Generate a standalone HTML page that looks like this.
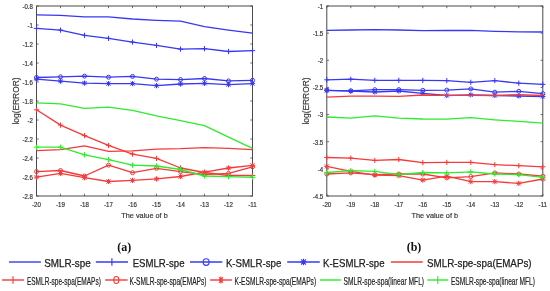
<!DOCTYPE html>
<html><head><meta charset="utf-8"><style>
html,body{margin:0;padding:0;background:#fff;}
body{width:550px;height:291px;overflow:hidden;}
svg{display:block;will-change:transform;}
text{font-family:"Liberation Sans",sans-serif;fill:#333333;}
.tk{font-size:6.6px;stroke:#333;stroke-width:0.18px;}
.xl{font-size:8px;stroke:#333;stroke-width:0.18px;}
.yl{font-size:8.4px;stroke:#333;stroke-width:0.15px;}
.pl{font-family:"Liberation Serif",serif;font-weight:bold;font-size:12px;fill:#111;}
.lg1{font-size:10.4px;fill:#222;stroke:#222;stroke-width:0.25px;}
.lg2{font-size:10.8px;fill:#222;stroke:#222;stroke-width:0.2px;}
</style></head><body>
<svg width="550" height="291" viewBox="0 0 550 291">
<rect width="550" height="291" fill="#fff"/>
<rect x="36.5" y="6.0" width="216.0" height="190.0" fill="none" stroke="#4a4a4a" stroke-width="1"/>
<path d="M36.5 196.0V193.8M36.5 6.0V8.2" stroke="#4a4a4a" stroke-width="0.8"/>
<path d="M60.5 196.0V193.8M60.5 6.0V8.2" stroke="#4a4a4a" stroke-width="0.8"/>
<path d="M84.5 196.0V193.8M84.5 6.0V8.2" stroke="#4a4a4a" stroke-width="0.8"/>
<path d="M108.5 196.0V193.8M108.5 6.0V8.2" stroke="#4a4a4a" stroke-width="0.8"/>
<path d="M132.5 196.0V193.8M132.5 6.0V8.2" stroke="#4a4a4a" stroke-width="0.8"/>
<path d="M156.5 196.0V193.8M156.5 6.0V8.2" stroke="#4a4a4a" stroke-width="0.8"/>
<path d="M180.5 196.0V193.8M180.5 6.0V8.2" stroke="#4a4a4a" stroke-width="0.8"/>
<path d="M204.5 196.0V193.8M204.5 6.0V8.2" stroke="#4a4a4a" stroke-width="0.8"/>
<path d="M228.5 196.0V193.8M228.5 6.0V8.2" stroke="#4a4a4a" stroke-width="0.8"/>
<path d="M252.5 196.0V193.8M252.5 6.0V8.2" stroke="#4a4a4a" stroke-width="0.8"/>
<path d="M36.5 6.00H38.7M252.5 6.00H250.3" stroke="#4a4a4a" stroke-width="0.8"/>
<path d="M36.5 25.00H38.7M252.5 25.00H250.3" stroke="#4a4a4a" stroke-width="0.8"/>
<path d="M36.5 44.00H38.7M252.5 44.00H250.3" stroke="#4a4a4a" stroke-width="0.8"/>
<path d="M36.5 63.00H38.7M252.5 63.00H250.3" stroke="#4a4a4a" stroke-width="0.8"/>
<path d="M36.5 82.00H38.7M252.5 82.00H250.3" stroke="#4a4a4a" stroke-width="0.8"/>
<path d="M36.5 101.00H38.7M252.5 101.00H250.3" stroke="#4a4a4a" stroke-width="0.8"/>
<path d="M36.5 120.00H38.7M252.5 120.00H250.3" stroke="#4a4a4a" stroke-width="0.8"/>
<path d="M36.5 139.00H38.7M252.5 139.00H250.3" stroke="#4a4a4a" stroke-width="0.8"/>
<path d="M36.5 158.00H38.7M252.5 158.00H250.3" stroke="#4a4a4a" stroke-width="0.8"/>
<path d="M36.5 177.00H38.7M252.5 177.00H250.3" stroke="#4a4a4a" stroke-width="0.8"/>
<path d="M36.5 196.00H38.7M252.5 196.00H250.3" stroke="#4a4a4a" stroke-width="0.8"/>
<text transform="translate(36.50,207.4) scale(0.93,1)" class="tk" text-anchor="middle">-20</text>
<text transform="translate(60.50,207.4) scale(0.93,1)" class="tk" text-anchor="middle">-19</text>
<text transform="translate(84.50,207.4) scale(0.93,1)" class="tk" text-anchor="middle">-18</text>
<text transform="translate(108.50,207.4) scale(0.93,1)" class="tk" text-anchor="middle">-17</text>
<text transform="translate(132.50,207.4) scale(0.93,1)" class="tk" text-anchor="middle">-16</text>
<text transform="translate(156.50,207.4) scale(0.93,1)" class="tk" text-anchor="middle">-15</text>
<text transform="translate(180.50,207.4) scale(0.93,1)" class="tk" text-anchor="middle">-14</text>
<text transform="translate(204.50,207.4) scale(0.93,1)" class="tk" text-anchor="middle">-13</text>
<text transform="translate(228.50,207.4) scale(0.93,1)" class="tk" text-anchor="middle">-12</text>
<text transform="translate(252.50,207.4) scale(0.93,1)" class="tk" text-anchor="middle">-11</text>
<text transform="translate(32.90,8.90) scale(0.92,1)" class="tk" text-anchor="end">-0.8</text>
<text transform="translate(32.90,27.90) scale(0.92,1)" class="tk" text-anchor="end">-1</text>
<text transform="translate(32.90,46.90) scale(0.92,1)" class="tk" text-anchor="end">-1.2</text>
<text transform="translate(32.90,65.90) scale(0.92,1)" class="tk" text-anchor="end">-1.4</text>
<text transform="translate(32.90,84.90) scale(0.92,1)" class="tk" text-anchor="end">-1.6</text>
<text transform="translate(32.90,103.90) scale(0.92,1)" class="tk" text-anchor="end">-1.8</text>
<text transform="translate(32.90,122.90) scale(0.92,1)" class="tk" text-anchor="end">-2</text>
<text transform="translate(32.90,141.90) scale(0.92,1)" class="tk" text-anchor="end">-2.2</text>
<text transform="translate(32.90,160.90) scale(0.92,1)" class="tk" text-anchor="end">-2.4</text>
<text transform="translate(32.90,179.90) scale(0.92,1)" class="tk" text-anchor="end">-2.6</text>
<text transform="translate(32.90,198.90) scale(0.92,1)" class="tk" text-anchor="end">-2.8</text>
<text x="144.50" y="218.4" class="xl" text-anchor="middle" textLength="46.5" lengthAdjust="spacingAndGlyphs">The value of b</text>
<text transform="translate(19.00,101) rotate(-90)" class="yl" text-anchor="middle">log(ERROR)</text>
<rect x="326.8" y="6.0" width="215.99999999999994" height="190.0" fill="none" stroke="#4a4a4a" stroke-width="1"/>
<path d="M326.8 196.0V193.8M326.8 6.0V8.2" stroke="#4a4a4a" stroke-width="0.8"/>
<path d="M350.8 196.0V193.8M350.8 6.0V8.2" stroke="#4a4a4a" stroke-width="0.8"/>
<path d="M374.8 196.0V193.8M374.8 6.0V8.2" stroke="#4a4a4a" stroke-width="0.8"/>
<path d="M398.8 196.0V193.8M398.8 6.0V8.2" stroke="#4a4a4a" stroke-width="0.8"/>
<path d="M422.8 196.0V193.8M422.8 6.0V8.2" stroke="#4a4a4a" stroke-width="0.8"/>
<path d="M446.8 196.0V193.8M446.8 6.0V8.2" stroke="#4a4a4a" stroke-width="0.8"/>
<path d="M470.8 196.0V193.8M470.8 6.0V8.2" stroke="#4a4a4a" stroke-width="0.8"/>
<path d="M494.8 196.0V193.8M494.8 6.0V8.2" stroke="#4a4a4a" stroke-width="0.8"/>
<path d="M518.8 196.0V193.8M518.8 6.0V8.2" stroke="#4a4a4a" stroke-width="0.8"/>
<path d="M542.8 196.0V193.8M542.8 6.0V8.2" stroke="#4a4a4a" stroke-width="0.8"/>
<path d="M326.8 6.00H329.0M542.8 6.00H540.5999999999999" stroke="#4a4a4a" stroke-width="0.8"/>
<path d="M326.8 33.14H329.0M542.8 33.14H540.5999999999999" stroke="#4a4a4a" stroke-width="0.8"/>
<path d="M326.8 60.29H329.0M542.8 60.29H540.5999999999999" stroke="#4a4a4a" stroke-width="0.8"/>
<path d="M326.8 87.43H329.0M542.8 87.43H540.5999999999999" stroke="#4a4a4a" stroke-width="0.8"/>
<path d="M326.8 114.57H329.0M542.8 114.57H540.5999999999999" stroke="#4a4a4a" stroke-width="0.8"/>
<path d="M326.8 141.71H329.0M542.8 141.71H540.5999999999999" stroke="#4a4a4a" stroke-width="0.8"/>
<path d="M326.8 168.86H329.0M542.8 168.86H540.5999999999999" stroke="#4a4a4a" stroke-width="0.8"/>
<path d="M326.8 196.00H329.0M542.8 196.00H540.5999999999999" stroke="#4a4a4a" stroke-width="0.8"/>
<text transform="translate(326.80,207.4) scale(0.93,1)" class="tk" text-anchor="middle">-20</text>
<text transform="translate(350.80,207.4) scale(0.93,1)" class="tk" text-anchor="middle">-19</text>
<text transform="translate(374.80,207.4) scale(0.93,1)" class="tk" text-anchor="middle">-18</text>
<text transform="translate(398.80,207.4) scale(0.93,1)" class="tk" text-anchor="middle">-17</text>
<text transform="translate(422.80,207.4) scale(0.93,1)" class="tk" text-anchor="middle">-16</text>
<text transform="translate(446.80,207.4) scale(0.93,1)" class="tk" text-anchor="middle">-15</text>
<text transform="translate(470.80,207.4) scale(0.93,1)" class="tk" text-anchor="middle">-14</text>
<text transform="translate(494.80,207.4) scale(0.93,1)" class="tk" text-anchor="middle">-13</text>
<text transform="translate(518.80,207.4) scale(0.93,1)" class="tk" text-anchor="middle">-12</text>
<text transform="translate(542.80,207.4) scale(0.93,1)" class="tk" text-anchor="middle">-11</text>
<text transform="translate(323.20,8.90) scale(0.92,1)" class="tk" text-anchor="end">-1</text>
<text transform="translate(323.20,36.04) scale(0.92,1)" class="tk" text-anchor="end">-1.5</text>
<text transform="translate(323.20,63.19) scale(0.92,1)" class="tk" text-anchor="end">-2</text>
<text transform="translate(323.20,90.33) scale(0.92,1)" class="tk" text-anchor="end">-2.5</text>
<text transform="translate(323.20,117.47) scale(0.92,1)" class="tk" text-anchor="end">-3</text>
<text transform="translate(323.20,144.61) scale(0.92,1)" class="tk" text-anchor="end">-3.5</text>
<text transform="translate(323.20,171.76) scale(0.92,1)" class="tk" text-anchor="end">-4</text>
<text transform="translate(323.20,198.90) scale(0.92,1)" class="tk" text-anchor="end">-4.5</text>
<text x="434.80" y="218.4" class="xl" text-anchor="middle" textLength="46.5" lengthAdjust="spacingAndGlyphs">The value of b</text>
<text transform="translate(309.30,101) rotate(-90)" class="yl" text-anchor="middle">log(ERROR)</text>
<polyline points="36.50,14.80 60.50,15.30 84.50,16.80 108.50,16.80 132.50,19.00 156.50,20.30 180.50,21.20 204.50,26.60 228.50,30.10 252.50,33.20" stroke="#3838f4" stroke-width="1.3" fill="none" stroke-linejoin="round"/>
<polyline points="326.80,30.30 350.80,30.00 374.80,29.60 398.80,30.00 422.80,30.70 446.80,30.50 470.80,30.30 494.80,31.30 518.80,31.80 542.80,32.00" stroke="#3838f4" stroke-width="1.3" fill="none" stroke-linejoin="round"/>
<polyline points="36.50,28.40 60.50,30.10 84.50,35.30 108.50,38.40 132.50,42.10 156.50,45.40 180.50,49.10 204.50,48.70 228.50,51.50 252.50,50.60" stroke="#3838f4" stroke-width="1.3" fill="none" stroke-linejoin="round"/>
<path d="M33.90 28.40H39.10M36.50 25.80V31.00" stroke="#3838f4" stroke-width="1.0" fill="none"/>
<path d="M57.90 30.10H63.10M60.50 27.50V32.70" stroke="#3838f4" stroke-width="1.0" fill="none"/>
<path d="M81.90 35.30H87.10M84.50 32.70V37.90" stroke="#3838f4" stroke-width="1.0" fill="none"/>
<path d="M105.90 38.40H111.10M108.50 35.80V41.00" stroke="#3838f4" stroke-width="1.0" fill="none"/>
<path d="M129.90 42.10H135.10M132.50 39.50V44.70" stroke="#3838f4" stroke-width="1.0" fill="none"/>
<path d="M153.90 45.40H159.10M156.50 42.80V48.00" stroke="#3838f4" stroke-width="1.0" fill="none"/>
<path d="M177.90 49.10H183.10M180.50 46.50V51.70" stroke="#3838f4" stroke-width="1.0" fill="none"/>
<path d="M201.90 48.70H207.10M204.50 46.10V51.30" stroke="#3838f4" stroke-width="1.0" fill="none"/>
<path d="M225.90 51.50H231.10M228.50 48.90V54.10" stroke="#3838f4" stroke-width="1.0" fill="none"/>
<path d="M249.90 50.60H255.10M252.50 48.00V53.20" stroke="#3838f4" stroke-width="1.0" fill="none"/>
<polyline points="326.80,79.80 350.80,79.20 374.80,80.30 398.80,80.30 422.80,80.40 446.80,80.60 470.80,82.30 494.80,80.60 518.80,83.20 542.80,84.40" stroke="#3838f4" stroke-width="1.3" fill="none" stroke-linejoin="round"/>
<path d="M324.20 79.80H329.40M326.80 77.20V82.40" stroke="#3838f4" stroke-width="1.0" fill="none"/>
<path d="M348.20 79.20H353.40M350.80 76.60V81.80" stroke="#3838f4" stroke-width="1.0" fill="none"/>
<path d="M372.20 80.30H377.40M374.80 77.70V82.90" stroke="#3838f4" stroke-width="1.0" fill="none"/>
<path d="M396.20 80.30H401.40M398.80 77.70V82.90" stroke="#3838f4" stroke-width="1.0" fill="none"/>
<path d="M420.20 80.40H425.40M422.80 77.80V83.00" stroke="#3838f4" stroke-width="1.0" fill="none"/>
<path d="M444.20 80.60H449.40M446.80 78.00V83.20" stroke="#3838f4" stroke-width="1.0" fill="none"/>
<path d="M468.20 82.30H473.40M470.80 79.70V84.90" stroke="#3838f4" stroke-width="1.0" fill="none"/>
<path d="M492.20 80.60H497.40M494.80 78.00V83.20" stroke="#3838f4" stroke-width="1.0" fill="none"/>
<path d="M516.20 83.20H521.40M518.80 80.60V85.80" stroke="#3838f4" stroke-width="1.0" fill="none"/>
<path d="M540.20 84.40H545.40M542.80 81.80V87.00" stroke="#3838f4" stroke-width="1.0" fill="none"/>
<polyline points="36.50,77.50 60.50,76.80 84.50,76.10 108.50,77.20 132.50,76.40 156.50,79.20 180.50,79.60 204.50,78.50 228.50,80.90 252.50,80.30" stroke="#3838f4" stroke-width="1.3" fill="none" stroke-linejoin="round"/>
<circle cx="36.50" cy="77.50" r="2.0" stroke="#3838f4" stroke-width="1.0" fill="none"/>
<circle cx="60.50" cy="76.80" r="2.0" stroke="#3838f4" stroke-width="1.0" fill="none"/>
<circle cx="84.50" cy="76.10" r="2.0" stroke="#3838f4" stroke-width="1.0" fill="none"/>
<circle cx="108.50" cy="77.20" r="2.0" stroke="#3838f4" stroke-width="1.0" fill="none"/>
<circle cx="132.50" cy="76.40" r="2.0" stroke="#3838f4" stroke-width="1.0" fill="none"/>
<circle cx="156.50" cy="79.20" r="2.0" stroke="#3838f4" stroke-width="1.0" fill="none"/>
<circle cx="180.50" cy="79.60" r="2.0" stroke="#3838f4" stroke-width="1.0" fill="none"/>
<circle cx="204.50" cy="78.50" r="2.0" stroke="#3838f4" stroke-width="1.0" fill="none"/>
<circle cx="228.50" cy="80.90" r="2.0" stroke="#3838f4" stroke-width="1.0" fill="none"/>
<circle cx="252.50" cy="80.30" r="2.0" stroke="#3838f4" stroke-width="1.0" fill="none"/>
<polyline points="326.80,90.30 350.80,90.80 374.80,89.70 398.80,89.60 422.80,90.30 446.80,90.10 470.80,88.90 494.80,92.20 518.80,91.30 542.80,93.60" stroke="#3838f4" stroke-width="1.3" fill="none" stroke-linejoin="round"/>
<circle cx="326.80" cy="90.30" r="2.0" stroke="#3838f4" stroke-width="1.0" fill="none"/>
<circle cx="350.80" cy="90.80" r="2.0" stroke="#3838f4" stroke-width="1.0" fill="none"/>
<circle cx="374.80" cy="89.70" r="2.0" stroke="#3838f4" stroke-width="1.0" fill="none"/>
<circle cx="398.80" cy="89.60" r="2.0" stroke="#3838f4" stroke-width="1.0" fill="none"/>
<circle cx="422.80" cy="90.30" r="2.0" stroke="#3838f4" stroke-width="1.0" fill="none"/>
<circle cx="446.80" cy="90.10" r="2.0" stroke="#3838f4" stroke-width="1.0" fill="none"/>
<circle cx="470.80" cy="88.90" r="2.0" stroke="#3838f4" stroke-width="1.0" fill="none"/>
<circle cx="494.80" cy="92.20" r="2.0" stroke="#3838f4" stroke-width="1.0" fill="none"/>
<circle cx="518.80" cy="91.30" r="2.0" stroke="#3838f4" stroke-width="1.0" fill="none"/>
<circle cx="542.80" cy="93.60" r="2.0" stroke="#3838f4" stroke-width="1.0" fill="none"/>
<polyline points="36.50,79.20 60.50,81.20 84.50,83.10 108.50,83.60 132.50,83.60 156.50,85.70 180.50,84.00 204.50,83.30 228.50,84.70 252.50,83.60" stroke="#3838f4" stroke-width="1.3" fill="none" stroke-linejoin="round"/>
<path d="M33.90 79.20H39.10M36.50 76.60V81.80M34.50 77.20L38.50 81.20M34.50 81.20L38.50 77.20" stroke="#3838f4" stroke-width="1.0" fill="none"/>
<path d="M57.90 81.20H63.10M60.50 78.60V83.80M58.50 79.20L62.50 83.20M58.50 83.20L62.50 79.20" stroke="#3838f4" stroke-width="1.0" fill="none"/>
<path d="M81.90 83.10H87.10M84.50 80.50V85.70M82.50 81.10L86.50 85.10M82.50 85.10L86.50 81.10" stroke="#3838f4" stroke-width="1.0" fill="none"/>
<path d="M105.90 83.60H111.10M108.50 81.00V86.20M106.50 81.60L110.50 85.60M106.50 85.60L110.50 81.60" stroke="#3838f4" stroke-width="1.0" fill="none"/>
<path d="M129.90 83.60H135.10M132.50 81.00V86.20M130.50 81.60L134.50 85.60M130.50 85.60L134.50 81.60" stroke="#3838f4" stroke-width="1.0" fill="none"/>
<path d="M153.90 85.70H159.10M156.50 83.10V88.30M154.50 83.70L158.50 87.70M154.50 87.70L158.50 83.70" stroke="#3838f4" stroke-width="1.0" fill="none"/>
<path d="M177.90 84.00H183.10M180.50 81.40V86.60M178.50 82.00L182.50 86.00M178.50 86.00L182.50 82.00" stroke="#3838f4" stroke-width="1.0" fill="none"/>
<path d="M201.90 83.30H207.10M204.50 80.70V85.90M202.50 81.30L206.50 85.30M202.50 85.30L206.50 81.30" stroke="#3838f4" stroke-width="1.0" fill="none"/>
<path d="M225.90 84.70H231.10M228.50 82.10V87.30M226.50 82.70L230.50 86.70M226.50 86.70L230.50 82.70" stroke="#3838f4" stroke-width="1.0" fill="none"/>
<path d="M249.90 83.60H255.10M252.50 81.00V86.20M250.50 81.60L254.50 85.60M250.50 85.60L254.50 81.60" stroke="#3838f4" stroke-width="1.0" fill="none"/>
<polyline points="326.80,90.40 350.80,91.20 374.80,92.00 398.80,91.00 422.80,93.30 446.80,95.50 470.80,94.80 494.80,95.50 518.80,96.00 542.80,96.50" stroke="#3838f4" stroke-width="1.3" fill="none" stroke-linejoin="round"/>
<path d="M324.20 90.40H329.40M326.80 87.80V93.00M324.80 88.40L328.80 92.40M324.80 92.40L328.80 88.40" stroke="#3838f4" stroke-width="1.0" fill="none"/>
<path d="M348.20 91.20H353.40M350.80 88.60V93.80M348.80 89.20L352.80 93.20M348.80 93.20L352.80 89.20" stroke="#3838f4" stroke-width="1.0" fill="none"/>
<path d="M372.20 92.00H377.40M374.80 89.40V94.60M372.80 90.00L376.80 94.00M372.80 94.00L376.80 90.00" stroke="#3838f4" stroke-width="1.0" fill="none"/>
<path d="M396.20 91.00H401.40M398.80 88.40V93.60M396.80 89.00L400.80 93.00M396.80 93.00L400.80 89.00" stroke="#3838f4" stroke-width="1.0" fill="none"/>
<path d="M420.20 93.30H425.40M422.80 90.70V95.90M420.80 91.30L424.80 95.30M420.80 95.30L424.80 91.30" stroke="#3838f4" stroke-width="1.0" fill="none"/>
<path d="M444.20 95.50H449.40M446.80 92.90V98.10M444.80 93.50L448.80 97.50M444.80 97.50L448.80 93.50" stroke="#3838f4" stroke-width="1.0" fill="none"/>
<path d="M468.20 94.80H473.40M470.80 92.20V97.40M468.80 92.80L472.80 96.80M468.80 96.80L472.80 92.80" stroke="#3838f4" stroke-width="1.0" fill="none"/>
<path d="M492.20 95.50H497.40M494.80 92.90V98.10M492.80 93.50L496.80 97.50M492.80 97.50L496.80 93.50" stroke="#3838f4" stroke-width="1.0" fill="none"/>
<path d="M516.20 96.00H521.40M518.80 93.40V98.60M516.80 94.00L520.80 98.00M516.80 98.00L520.80 94.00" stroke="#3838f4" stroke-width="1.0" fill="none"/>
<path d="M540.20 96.50H545.40M542.80 93.90V99.10M540.80 94.50L544.80 98.50M540.80 98.50L544.80 94.50" stroke="#3838f4" stroke-width="1.0" fill="none"/>
<polyline points="36.50,150.60 60.50,149.70 84.50,145.80 108.50,151.30 132.50,150.80 156.50,149.10 180.50,148.70 204.50,147.60 228.50,148.40 252.50,149.70" stroke="#f63a3a" stroke-width="1.3" fill="none" stroke-linejoin="round"/>
<polyline points="326.80,97.20 350.80,96.10 374.80,96.20 398.80,96.40 422.80,95.00 446.80,95.30 470.80,95.30 494.80,95.50 518.80,94.60 542.80,95.50" stroke="#f63a3a" stroke-width="1.3" fill="none" stroke-linejoin="round"/>
<polyline points="36.50,109.80 60.50,125.10 84.50,135.60 108.50,145.40 132.50,154.10 156.50,158.40 180.50,168.00 204.50,172.50 228.50,175.50 252.50,175.50" stroke="#f63a3a" stroke-width="1.3" fill="none" stroke-linejoin="round"/>
<path d="M33.90 109.80H39.10M36.50 107.20V112.40" stroke="#f63a3a" stroke-width="1.0" fill="none"/>
<path d="M57.90 125.10H63.10M60.50 122.50V127.70" stroke="#f63a3a" stroke-width="1.0" fill="none"/>
<path d="M81.90 135.60H87.10M84.50 133.00V138.20" stroke="#f63a3a" stroke-width="1.0" fill="none"/>
<path d="M105.90 145.40H111.10M108.50 142.80V148.00" stroke="#f63a3a" stroke-width="1.0" fill="none"/>
<path d="M129.90 154.10H135.10M132.50 151.50V156.70" stroke="#f63a3a" stroke-width="1.0" fill="none"/>
<path d="M153.90 158.40H159.10M156.50 155.80V161.00" stroke="#f63a3a" stroke-width="1.0" fill="none"/>
<path d="M177.90 168.00H183.10M180.50 165.40V170.60" stroke="#f63a3a" stroke-width="1.0" fill="none"/>
<path d="M201.90 172.50H207.10M204.50 169.90V175.10" stroke="#f63a3a" stroke-width="1.0" fill="none"/>
<path d="M225.90 175.50H231.10M228.50 172.90V178.10" stroke="#f63a3a" stroke-width="1.0" fill="none"/>
<path d="M249.90 175.50H255.10M252.50 172.90V178.10" stroke="#f63a3a" stroke-width="1.0" fill="none"/>
<polyline points="326.80,157.50 350.80,158.10 374.80,160.40 398.80,159.50 422.80,162.70 446.80,162.40 470.80,162.40 494.80,164.60 518.80,165.70 542.80,166.80" stroke="#f63a3a" stroke-width="1.3" fill="none" stroke-linejoin="round"/>
<path d="M324.20 157.50H329.40M326.80 154.90V160.10" stroke="#f63a3a" stroke-width="1.0" fill="none"/>
<path d="M348.20 158.10H353.40M350.80 155.50V160.70" stroke="#f63a3a" stroke-width="1.0" fill="none"/>
<path d="M372.20 160.40H377.40M374.80 157.80V163.00" stroke="#f63a3a" stroke-width="1.0" fill="none"/>
<path d="M396.20 159.50H401.40M398.80 156.90V162.10" stroke="#f63a3a" stroke-width="1.0" fill="none"/>
<path d="M420.20 162.70H425.40M422.80 160.10V165.30" stroke="#f63a3a" stroke-width="1.0" fill="none"/>
<path d="M444.20 162.40H449.40M446.80 159.80V165.00" stroke="#f63a3a" stroke-width="1.0" fill="none"/>
<path d="M468.20 162.40H473.40M470.80 159.80V165.00" stroke="#f63a3a" stroke-width="1.0" fill="none"/>
<path d="M492.20 164.60H497.40M494.80 162.00V167.20" stroke="#f63a3a" stroke-width="1.0" fill="none"/>
<path d="M516.20 165.70H521.40M518.80 163.10V168.30" stroke="#f63a3a" stroke-width="1.0" fill="none"/>
<path d="M540.20 166.80H545.40M542.80 164.20V169.40" stroke="#f63a3a" stroke-width="1.0" fill="none"/>
<polyline points="36.50,171.60 60.50,170.50 84.50,176.00 108.50,165.10 132.50,172.70 156.50,168.30 180.50,171.60 204.50,174.60 228.50,173.40 252.50,166.80" stroke="#f63a3a" stroke-width="1.3" fill="none" stroke-linejoin="round"/>
<circle cx="36.50" cy="171.60" r="2.0" stroke="#f63a3a" stroke-width="1.0" fill="none"/>
<circle cx="60.50" cy="170.50" r="2.0" stroke="#f63a3a" stroke-width="1.0" fill="none"/>
<circle cx="84.50" cy="176.00" r="2.0" stroke="#f63a3a" stroke-width="1.0" fill="none"/>
<circle cx="108.50" cy="165.10" r="2.0" stroke="#f63a3a" stroke-width="1.0" fill="none"/>
<circle cx="132.50" cy="172.70" r="2.0" stroke="#f63a3a" stroke-width="1.0" fill="none"/>
<circle cx="156.50" cy="168.30" r="2.0" stroke="#f63a3a" stroke-width="1.0" fill="none"/>
<circle cx="180.50" cy="171.60" r="2.0" stroke="#f63a3a" stroke-width="1.0" fill="none"/>
<circle cx="204.50" cy="174.60" r="2.0" stroke="#f63a3a" stroke-width="1.0" fill="none"/>
<circle cx="228.50" cy="173.40" r="2.0" stroke="#f63a3a" stroke-width="1.0" fill="none"/>
<circle cx="252.50" cy="166.80" r="2.0" stroke="#f63a3a" stroke-width="1.0" fill="none"/>
<polyline points="326.80,174.00 350.80,172.90 374.80,174.70 398.80,174.00 422.80,174.00 446.80,177.90 470.80,176.60 494.80,172.90 518.80,174.00 542.80,176.20" stroke="#f63a3a" stroke-width="1.3" fill="none" stroke-linejoin="round"/>
<circle cx="326.80" cy="174.00" r="2.0" stroke="#f63a3a" stroke-width="1.0" fill="none"/>
<circle cx="350.80" cy="172.90" r="2.0" stroke="#f63a3a" stroke-width="1.0" fill="none"/>
<circle cx="374.80" cy="174.70" r="2.0" stroke="#f63a3a" stroke-width="1.0" fill="none"/>
<circle cx="398.80" cy="174.00" r="2.0" stroke="#f63a3a" stroke-width="1.0" fill="none"/>
<circle cx="422.80" cy="174.00" r="2.0" stroke="#f63a3a" stroke-width="1.0" fill="none"/>
<circle cx="446.80" cy="177.90" r="2.0" stroke="#f63a3a" stroke-width="1.0" fill="none"/>
<circle cx="470.80" cy="176.60" r="2.0" stroke="#f63a3a" stroke-width="1.0" fill="none"/>
<circle cx="494.80" cy="172.90" r="2.0" stroke="#f63a3a" stroke-width="1.0" fill="none"/>
<circle cx="518.80" cy="174.00" r="2.0" stroke="#f63a3a" stroke-width="1.0" fill="none"/>
<circle cx="542.80" cy="176.20" r="2.0" stroke="#f63a3a" stroke-width="1.0" fill="none"/>
<polyline points="36.50,177.10 60.50,173.40 84.50,177.70 108.50,181.50 132.50,180.40 156.50,178.90 180.50,176.50 204.50,172.20 228.50,168.00 252.50,165.40" stroke="#f63a3a" stroke-width="1.3" fill="none" stroke-linejoin="round"/>
<path d="M33.90 177.10H39.10M36.50 174.50V179.70M34.50 175.10L38.50 179.10M34.50 179.10L38.50 175.10" stroke="#f63a3a" stroke-width="1.0" fill="none"/>
<path d="M57.90 173.40H63.10M60.50 170.80V176.00M58.50 171.40L62.50 175.40M58.50 175.40L62.50 171.40" stroke="#f63a3a" stroke-width="1.0" fill="none"/>
<path d="M81.90 177.70H87.10M84.50 175.10V180.30M82.50 175.70L86.50 179.70M82.50 179.70L86.50 175.70" stroke="#f63a3a" stroke-width="1.0" fill="none"/>
<path d="M105.90 181.50H111.10M108.50 178.90V184.10M106.50 179.50L110.50 183.50M106.50 183.50L110.50 179.50" stroke="#f63a3a" stroke-width="1.0" fill="none"/>
<path d="M129.90 180.40H135.10M132.50 177.80V183.00M130.50 178.40L134.50 182.40M130.50 182.40L134.50 178.40" stroke="#f63a3a" stroke-width="1.0" fill="none"/>
<path d="M153.90 178.90H159.10M156.50 176.30V181.50M154.50 176.90L158.50 180.90M154.50 180.90L158.50 176.90" stroke="#f63a3a" stroke-width="1.0" fill="none"/>
<path d="M177.90 176.50H183.10M180.50 173.90V179.10M178.50 174.50L182.50 178.50M178.50 178.50L182.50 174.50" stroke="#f63a3a" stroke-width="1.0" fill="none"/>
<path d="M201.90 172.20H207.10M204.50 169.60V174.80M202.50 170.20L206.50 174.20M202.50 174.20L206.50 170.20" stroke="#f63a3a" stroke-width="1.0" fill="none"/>
<path d="M225.90 168.00H231.10M228.50 165.40V170.60M226.50 166.00L230.50 170.00M226.50 170.00L230.50 166.00" stroke="#f63a3a" stroke-width="1.0" fill="none"/>
<path d="M249.90 165.40H255.10M252.50 162.80V168.00M250.50 163.40L254.50 167.40M250.50 167.40L254.50 163.40" stroke="#f63a3a" stroke-width="1.0" fill="none"/>
<polyline points="326.80,166.40 350.80,171.40 374.80,175.10 398.80,175.70 422.80,180.10 446.80,176.20 470.80,181.60 494.80,181.60 518.80,183.40 542.80,179.00" stroke="#f63a3a" stroke-width="1.3" fill="none" stroke-linejoin="round"/>
<path d="M324.20 166.40H329.40M326.80 163.80V169.00M324.80 164.40L328.80 168.40M324.80 168.40L328.80 164.40" stroke="#f63a3a" stroke-width="1.0" fill="none"/>
<path d="M348.20 171.40H353.40M350.80 168.80V174.00M348.80 169.40L352.80 173.40M348.80 173.40L352.80 169.40" stroke="#f63a3a" stroke-width="1.0" fill="none"/>
<path d="M372.20 175.10H377.40M374.80 172.50V177.70M372.80 173.10L376.80 177.10M372.80 177.10L376.80 173.10" stroke="#f63a3a" stroke-width="1.0" fill="none"/>
<path d="M396.20 175.70H401.40M398.80 173.10V178.30M396.80 173.70L400.80 177.70M396.80 177.70L400.80 173.70" stroke="#f63a3a" stroke-width="1.0" fill="none"/>
<path d="M420.20 180.10H425.40M422.80 177.50V182.70M420.80 178.10L424.80 182.10M420.80 182.10L424.80 178.10" stroke="#f63a3a" stroke-width="1.0" fill="none"/>
<path d="M444.20 176.20H449.40M446.80 173.60V178.80M444.80 174.20L448.80 178.20M444.80 178.20L448.80 174.20" stroke="#f63a3a" stroke-width="1.0" fill="none"/>
<path d="M468.20 181.60H473.40M470.80 179.00V184.20M468.80 179.60L472.80 183.60M468.80 183.60L472.80 179.60" stroke="#f63a3a" stroke-width="1.0" fill="none"/>
<path d="M492.20 181.60H497.40M494.80 179.00V184.20M492.80 179.60L496.80 183.60M492.80 183.60L496.80 179.60" stroke="#f63a3a" stroke-width="1.0" fill="none"/>
<path d="M516.20 183.40H521.40M518.80 180.80V186.00M516.80 181.40L520.80 185.40M516.80 185.40L520.80 181.40" stroke="#f63a3a" stroke-width="1.0" fill="none"/>
<path d="M540.20 179.00H545.40M542.80 176.40V181.60M540.80 177.00L544.80 181.00M540.80 181.00L544.80 177.00" stroke="#f63a3a" stroke-width="1.0" fill="none"/>
<polyline points="36.50,102.80 60.50,103.90 84.50,108.30 108.50,107.20 132.50,110.30 156.50,115.90 180.50,120.70 204.50,125.70 228.50,137.10 252.50,148.40" stroke="#2cec2c" stroke-width="1.3" fill="none" stroke-linejoin="round"/>
<polyline points="326.80,117.00 350.80,118.10 374.80,115.90 398.80,118.10 422.80,119.00 446.80,119.20 470.80,117.70 494.80,119.80 518.80,121.40 542.80,123.10" stroke="#2cec2c" stroke-width="1.3" fill="none" stroke-linejoin="round"/>
<polyline points="36.50,147.20 60.50,147.20 84.50,154.80 108.50,159.60 132.50,165.10 156.50,166.00 180.50,169.50 204.50,176.00 228.50,176.70 252.50,177.40" stroke="#2cec2c" stroke-width="1.3" fill="none" stroke-linejoin="round"/>
<path d="M33.90 147.20H39.10M36.50 144.60V149.80" stroke="#2cec2c" stroke-width="1.0" fill="none"/>
<path d="M57.90 147.20H63.10M60.50 144.60V149.80" stroke="#2cec2c" stroke-width="1.0" fill="none"/>
<path d="M81.90 154.80H87.10M84.50 152.20V157.40" stroke="#2cec2c" stroke-width="1.0" fill="none"/>
<path d="M105.90 159.60H111.10M108.50 157.00V162.20" stroke="#2cec2c" stroke-width="1.0" fill="none"/>
<path d="M129.90 165.10H135.10M132.50 162.50V167.70" stroke="#2cec2c" stroke-width="1.0" fill="none"/>
<path d="M153.90 166.00H159.10M156.50 163.40V168.60" stroke="#2cec2c" stroke-width="1.0" fill="none"/>
<path d="M177.90 169.50H183.10M180.50 166.90V172.10" stroke="#2cec2c" stroke-width="1.0" fill="none"/>
<path d="M201.90 176.00H207.10M204.50 173.40V178.60" stroke="#2cec2c" stroke-width="1.0" fill="none"/>
<path d="M225.90 176.70H231.10M228.50 174.10V179.30" stroke="#2cec2c" stroke-width="1.0" fill="none"/>
<path d="M249.90 177.40H255.10M252.50 174.80V180.00" stroke="#2cec2c" stroke-width="1.0" fill="none"/>
<polyline points="326.80,172.50 350.80,170.70 374.80,171.40 398.80,174.70 422.80,172.50 446.80,172.90 470.80,171.80 494.80,174.00 518.80,174.70 542.80,177.30" stroke="#2cec2c" stroke-width="1.3" fill="none" stroke-linejoin="round"/>
<path d="M324.20 172.50H329.40M326.80 169.90V175.10" stroke="#2cec2c" stroke-width="1.0" fill="none"/>
<path d="M348.20 170.70H353.40M350.80 168.10V173.30" stroke="#2cec2c" stroke-width="1.0" fill="none"/>
<path d="M372.20 171.40H377.40M374.80 168.80V174.00" stroke="#2cec2c" stroke-width="1.0" fill="none"/>
<path d="M396.20 174.70H401.40M398.80 172.10V177.30" stroke="#2cec2c" stroke-width="1.0" fill="none"/>
<path d="M420.20 172.50H425.40M422.80 169.90V175.10" stroke="#2cec2c" stroke-width="1.0" fill="none"/>
<path d="M444.20 172.90H449.40M446.80 170.30V175.50" stroke="#2cec2c" stroke-width="1.0" fill="none"/>
<path d="M468.20 171.80H473.40M470.80 169.20V174.40" stroke="#2cec2c" stroke-width="1.0" fill="none"/>
<path d="M492.20 174.00H497.40M494.80 171.40V176.60" stroke="#2cec2c" stroke-width="1.0" fill="none"/>
<path d="M516.20 174.70H521.40M518.80 172.10V177.30" stroke="#2cec2c" stroke-width="1.0" fill="none"/>
<path d="M540.20 177.30H545.40M542.80 174.70V179.90" stroke="#2cec2c" stroke-width="1.0" fill="none"/>
<text x="124.2" y="251.2" class="pl" text-anchor="middle">(a)</text>
<text x="414.0" y="251.2" class="pl" text-anchor="middle">(b)</text>
<path d="M9.0 262.0H40.9" stroke="#3838f4" stroke-width="1.4"/>
<text x="44.2" y="267.20" class="lg1" textLength="46.6" lengthAdjust="spacingAndGlyphs">SMLR-spe</text>
<path d="M95.8 262.0H128.0" stroke="#3838f4" stroke-width="1.4"/>
<path d="M111.80 262.00H112.00M111.90 258.30V265.70" stroke="#3838f4" stroke-width="1.15" fill="none"/>
<text x="132.7" y="267.20" class="lg1" textLength="51.8" lengthAdjust="spacingAndGlyphs">ESMLR-spe</text>
<path d="M190.0 262.0H222.3" stroke="#3838f4" stroke-width="1.4"/>
<ellipse cx="206.15" cy="262.00" rx="3.00" ry="3.30" stroke="#3838f4" stroke-width="1.15" fill="none"/>
<text x="225.9" y="267.20" class="lg1" textLength="55.4" lengthAdjust="spacingAndGlyphs">K-SMLR-spe</text>
<path d="M287.2 262.0H319.8" stroke="#3838f4" stroke-width="1.4"/>
<path d="M300.50 262.00H306.50M303.50 258.70V265.30M301.10 259.36L305.90 264.64M301.10 264.64L305.90 259.36" stroke="#3838f4" stroke-width="1.15" fill="none"/>
<text x="323.0" y="267.20" class="lg1" textLength="61.5" lengthAdjust="spacingAndGlyphs">K-ESMLR-spe</text>
<path d="M390.9 262.0H422.7" stroke="#f63a3a" stroke-width="1.4"/>
<text x="427.0" y="267.20" class="lg1" textLength="104.6" lengthAdjust="spacingAndGlyphs">SMLR-spe-spa(EMAPs)</text>
<path d="M2.0 280.0H24.0" stroke="#f63a3a" stroke-width="1.4"/>
<path d="M12.90 280.00H13.10M13.00 276.30V283.70" stroke="#f63a3a" stroke-width="1.15" fill="none"/>
<text x="26.9" y="284.90" class="lg2" textLength="74.0" lengthAdjust="spacingAndGlyphs">ESMLR-spe-spa(EMAPs)</text>
<path d="M105.1 280.0H127.5" stroke="#f63a3a" stroke-width="1.4"/>
<ellipse cx="116.30" cy="280.00" rx="2.55" ry="3.50" stroke="#f63a3a" stroke-width="1.15" fill="none"/>
<text x="129.5" y="284.90" class="lg2" textLength="77.0" lengthAdjust="spacingAndGlyphs">K-SMLR-spe-spa(EMAPs)</text>
<path d="M210.0 280.0H231.9" stroke="#f63a3a" stroke-width="1.4"/>
<path d="M218.65 280.00H223.25M220.95 276.50V283.50M219.11 277.20L222.79 282.80M219.11 282.80L222.79 277.20" stroke="#f63a3a" stroke-width="1.15" fill="none"/>
<text x="234.5" y="284.90" class="lg2" textLength="81.6" lengthAdjust="spacingAndGlyphs">K-ESMLR-spe-spa(EMAPs)</text>
<path d="M320.0 280.0H340.9" stroke="#2cec2c" stroke-width="1.4"/>
<text x="343.6" y="284.90" class="lg2" textLength="80.5" lengthAdjust="spacingAndGlyphs">SMLR-spe-spa(linear MFL)</text>
<path d="M427.3 280.0H448.2" stroke="#2cec2c" stroke-width="1.4"/>
<path d="M437.65 280.00H437.85M437.75 276.30V283.70" stroke="#2cec2c" stroke-width="1.15" fill="none"/>
<text x="450.9" y="284.90" class="lg2" textLength="84.1" lengthAdjust="spacingAndGlyphs">ESMLR-spe-spa(linear MFL)</text>
</svg>
</body></html>
